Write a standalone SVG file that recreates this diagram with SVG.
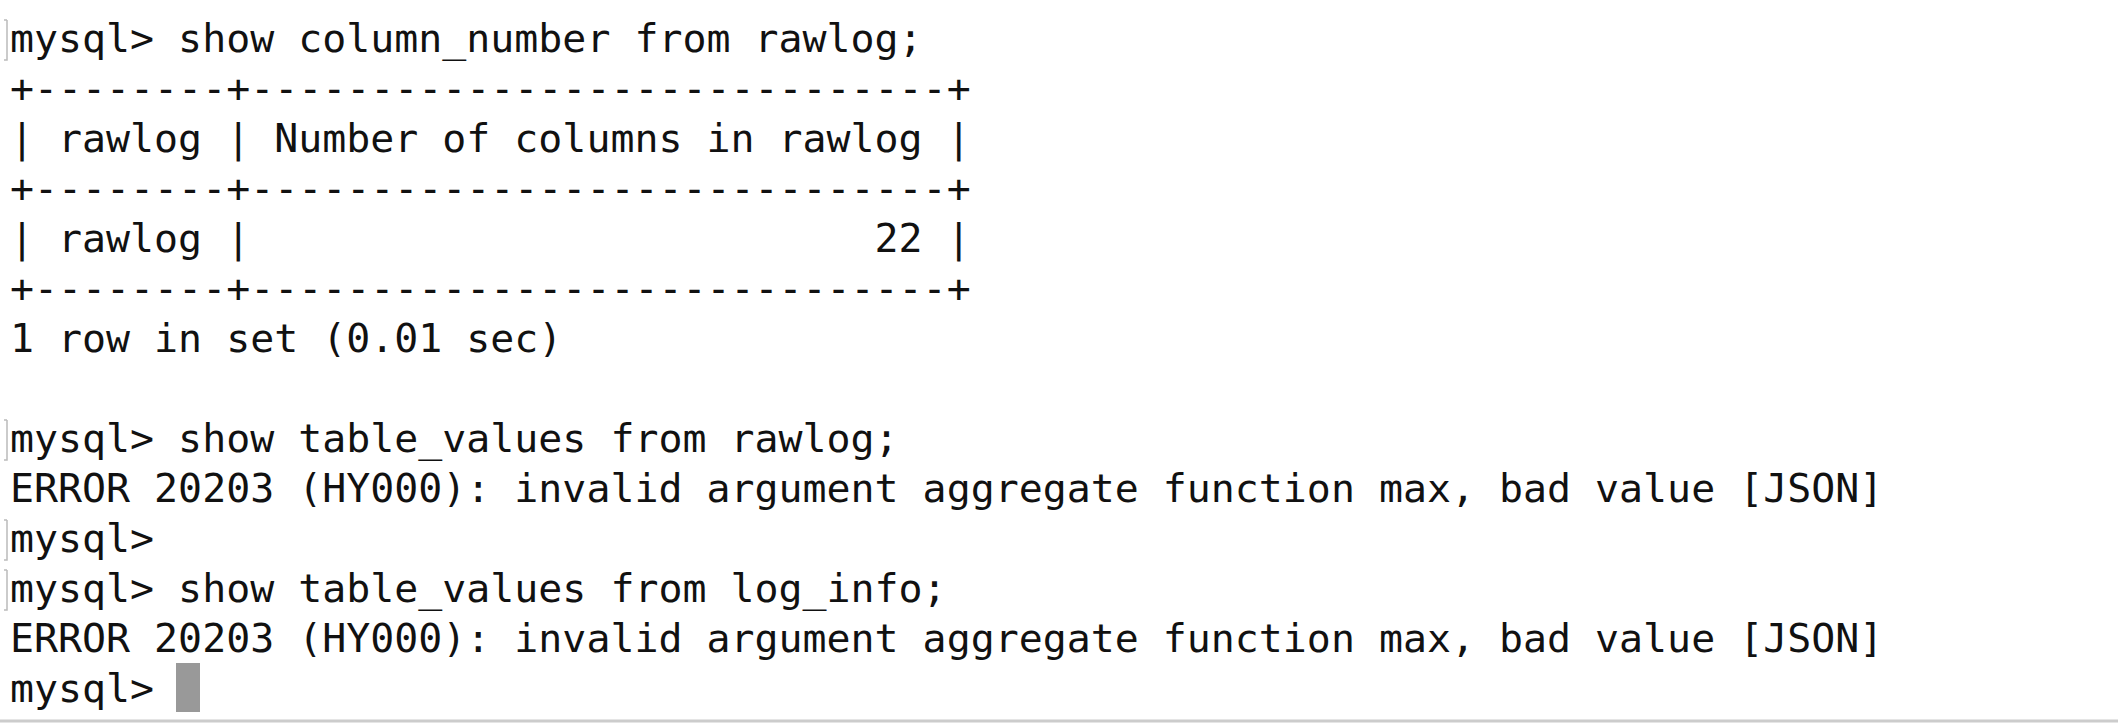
<svg xmlns="http://www.w3.org/2000/svg" width="2118" height="724" viewBox="0 0 2118 724">
<style>
.t{font-family:"DejaVu Sans Mono","Liberation Mono",monospace;font-size:39.9px;fill:#111;white-space:pre}
.m{fill:none;stroke:#bbb;stroke-width:1.5}
</style>
<rect width="2118" height="724" fill="#fff"/>
<g id="markers">
<path class="m" d="M7 20V60H4M7 20H4"/>
<path class="m" d="M7 420V460H4M7 420H4"/>
<path class="m" d="M7 520V560H4M7 520H4"/>
<path class="m" d="M7 570V610H4M7 570H4"/>
</g>
<g id="terminal" xml:space="preserve">
<text class="t" x="10" y="52">mysql&gt; show column_number from rawlog;</text>
<text class="t" x="10" y="102">+--------+-----------------------------+</text>
<text class="t" x="10" y="152">| rawlog | Number of columns in rawlog |</text>
<text class="t" x="10" y="202">+--------+-----------------------------+</text>
<text class="t" x="10" y="252">| rawlog |                          22 |</text>
<text class="t" x="10" y="302">+--------+-----------------------------+</text>
<text class="t" x="10" y="352">1 row in set (0.01 sec)</text>
<text class="t" x="10" y="452">mysql&gt; show table_values from rawlog;</text>
<text class="t" x="10" y="502">ERROR 20203 (HY000): invalid argument aggregate function max, bad value [JSON]</text>
<text class="t" x="10" y="552">mysql&gt;</text>
<text class="t" x="10" y="602">mysql&gt; show table_values from log_info;</text>
<text class="t" x="10" y="652">ERROR 20203 (HY000): invalid argument aggregate function max, bad value [JSON]</text>
<text class="t" x="10" y="702">mysql&gt;</text>
</g>
<rect id="cursor" x="176" y="663" width="24" height="49" fill="#999"/>
<path d="M0 721H2118" stroke="#ccc" stroke-width="3"/>
</svg>
